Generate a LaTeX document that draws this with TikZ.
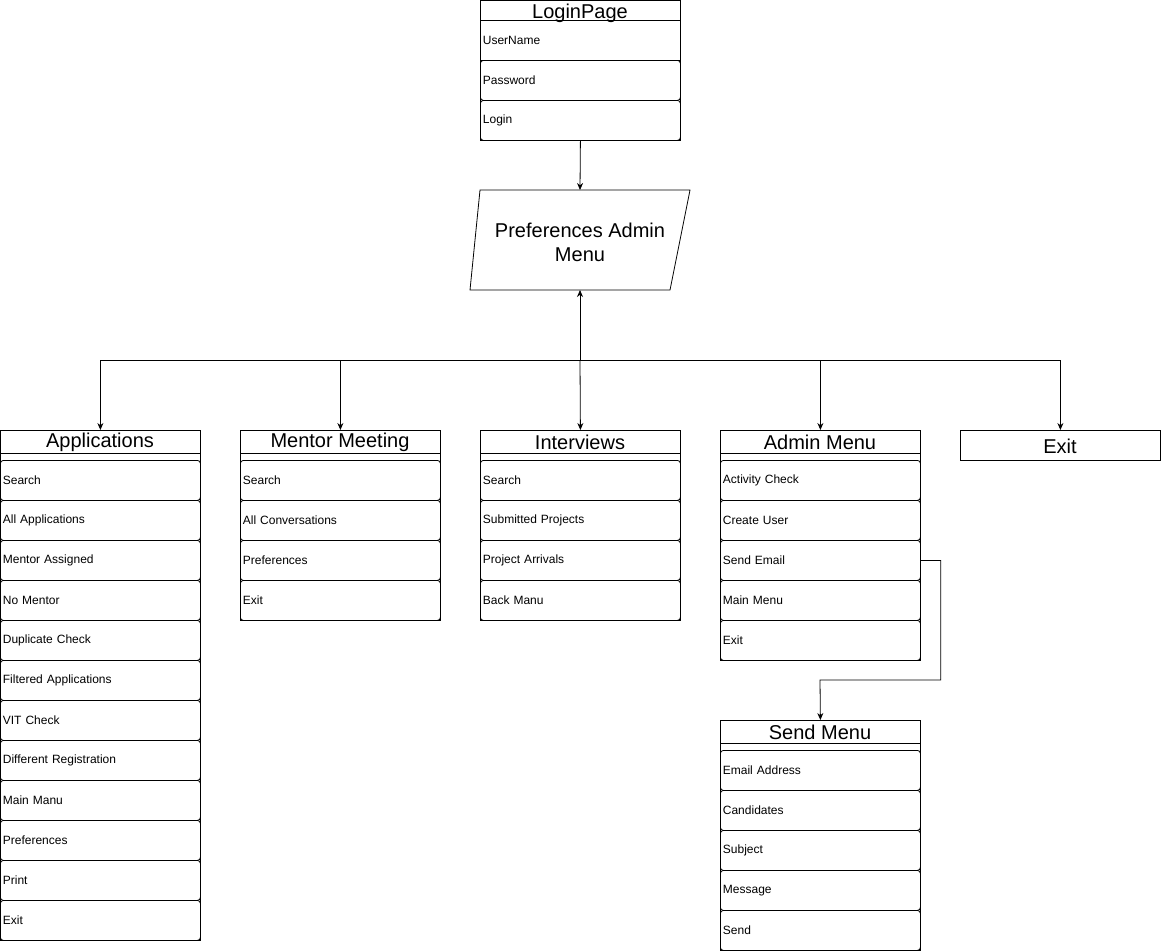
\documentclass[tikz,border=0pt]{standalone}
\usepackage{fontspec}
\setmainfont{Liberation Sans}
\usetikzlibrary{arrows.meta,positioning}

\tikzset{
  menubox/.style={draw, minimum width=200pt, anchor=north west, inner sep=0pt, fill=white},
  menutitle/.style={font=\fontsize{20}{20}\selectfont, inner sep=0pt},
  menuitem/.style={draw, rounded corners=3pt, minimum width=200pt, minimum height=40pt,
    anchor=north west, inner xsep=2.5pt, inner ysep=0pt, text width=195pt, align=left,
    font=\fontsize{12}{14}\selectfont},
  link/.style={-{Stealth[length=7pt,width=6pt]}, line width=0.8pt},
}

% name, left x, top y, height, title
\newcommand{\menupanel}[5]{%
  \node[menubox, minimum height=#4pt] (#1) at (#2,#3) {};
  \draw (#2,#3+23) -- ++(200,0);
  \node[menutitle] (#1-title) at (#2+100,#3+12) {#5};
}
% name, left x, first item y, items
\newcommand{\menuitems}[4]{%
  \foreach \t [count=\i] in {#4}
    \node[menuitem] (#1-\i) at (#2,{#3+40*(\i-1)}) {\t};
}

\begin{document}
\begin{tikzpicture}[x=1pt,y=-1pt,line width=0.8pt]
  \useasboundingbox (0,0) rectangle (1161,951);

  % login page
  \node[menubox, minimum height=140pt] (login) at (480,0) {};
  \node[menutitle] (login-title) at (580,13) {LoginPage};
  \node[menuitem, rounded corners=0pt] (login-1) at (480,20) {UserName};
  \menuitems{login}{480}{60}{Password,Login}

  % preferences admin menu
  \coordinate (prefs-top) at (580,190);
  \coordinate (prefs-bot) at (580,290);
  \draw (480,190) -- (690,190) -- (670,290) -- (470,290) -- cycle;
  \node[align=center, font=\fontsize{20}{24}\selectfont] (prefs) at (580,242) {Preferences Admin\\Menu};

  % menus
  \menupanel{apps}{0}{430}{510}{Applications}
  \menuitems{apps}{0}{460}{Search,All Applications,Mentor Assigned,No Mentor,Duplicate Check,Filtered Applications,VIT Check,Different Registration,Main Manu,Preferences,Print,Exit}

  \menupanel{mentor}{240}{430}{190}{Mentor Meeting}
  \menuitems{mentor}{240}{460}{Search,All Conversations,Preferences,Exit}

  \menupanel{inter}{480}{430}{190}{Interviews}
  \menuitems{inter}{480}{460}{Search,Submitted Projects,Project Arrivals,Back Manu}

  \menupanel{admin}{720}{430}{230}{Admin Menu}
  \menuitems{admin}{720}{460}{Activity Check,Create User,Send Email,Main Menu,Exit}

  \node[menubox, minimum height=30pt] (exit) at (960,430) {};
  \node[menutitle] (exit-title) at (1060,446) {Exit};

  \menupanel{send}{720}{720}{230}{Send Menu}
  \menuitems{send}{720}{750}{Email Address,Candidates,Subject,Message,Send}

  % connectors
  \coordinate (bus) at (580,360);
  \draw[link] (login.south) -- (prefs-top);
  \draw[link] (bus) -- (prefs-bot);
  \draw[link] (bus) -| (apps.north);
  \draw[link] (bus) -| (mentor.north);
  \draw[link] (bus) -- (inter.north);
  \draw[link] (bus) -| (admin.north);
  \draw[link] (bus) -| (exit.north);
  \draw[link] (admin-3.east) -- ++(20,0) |- (820,680) -- (send.north);
\end{tikzpicture}
\end{document}
